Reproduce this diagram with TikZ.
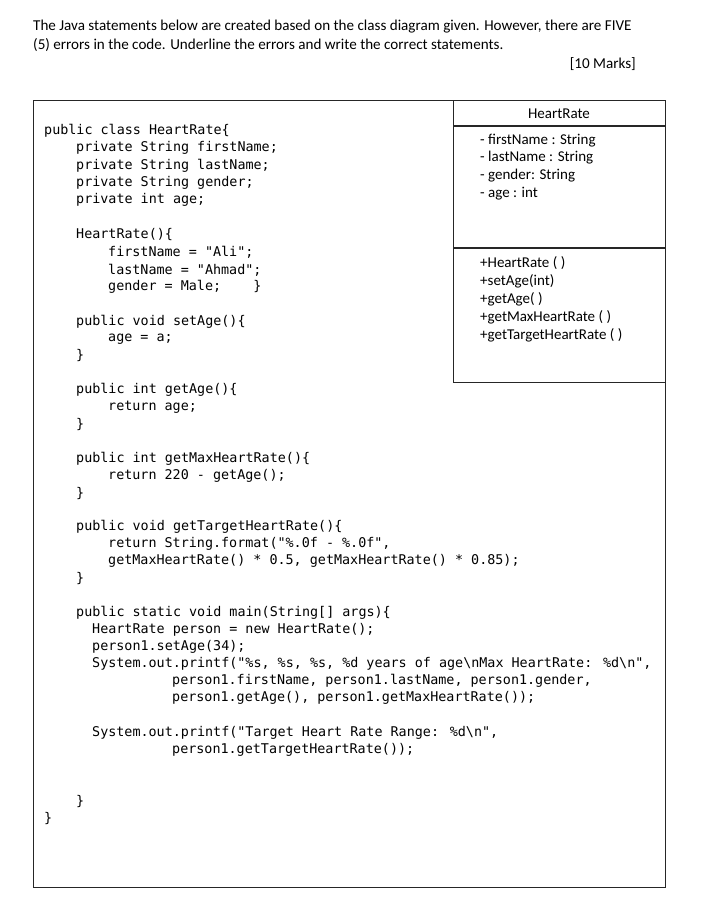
\documentclass[tikz,border=0pt]{standalone}
\usepackage{fontspec}
\setmainfont{Carlito}
\newfontfamily\codefont{DejaVu Sans Mono}
\begin{document}
\begin{tikzpicture}[x=1pt,y=-1pt,
  code/.style={anchor=west,inner sep=0pt,font=\codefont\fontsize{13.4}{14}\selectfont},
  txt/.style={anchor=west,inner sep=0pt,font=\fontsize{15.1}{16}\selectfont},
  uml/.style={anchor=west,inner sep=0pt,font=\fontsize{15}{16}\selectfont},
  frame/.style={draw=black!85,line width=1.1pt}]
\useasboundingbox (0,0) rectangle (711,917);
\node[txt] (h1) at (33,27) {The Java statements below are created based on the class diagram given. However, there are FIVE};
\node[txt] (h2) at (33,45) {(5) errors in the code. Underline the errors and write the correct statements.};
\node[txt,anchor=east] (h3) at (636,64) {[10 Marks]};
\node[frame,minimum width=632,minimum height=787,anchor=north west,inner sep=0pt] (outer) at (33,100) {};
\node[frame,fill=white,minimum width=212,minimum height=282,anchor=north west,inner sep=0pt] (cls) at (453,100) {};
\draw[frame] (453,126) -- (665,126);
\draw[frame] (453,248) -- (665,248);
\node[uml,anchor=center] (cn) at (559,114) {HeartRate};
\node[uml] (a1) at (480,141) {- firstName : String};
\node[uml] (a2) at (480,158) {- lastName : String};
\node[uml] (a3) at (480,176) {- gender: String};
\node[uml] (a4) at (480,194) {- age : int};
\node[uml] (m1) at (480,263) {+HeartRate ( )};
\node[uml] (m2) at (480,281) {+setAge(int)};
\node[uml] (m3) at (480,299) {+getAge( )};
\node[uml] (m4) at (480,317) {+getMaxHeartRate ( )};
\node[uml] (m5) at (480,335) {+getTargetHeartRate ( )};
\node[code] (c1) at (44,131) {public class HeartRate\{};
\node[code] (c2) at (76,148) {private String firstName;};
\node[code] (c3) at (76,166) {private String lastName;};
\node[code] (c4) at (76,183) {private String gender;};
\node[code] (c5) at (76,200) {private int age;};
\node[code] (c6) at (76,235) {HeartRate()\{};
\node[code] (c7) at (108,252) {firstName = "Ali";};
\node[code] (c8) at (108,270) {lastName = "Ahmad";};
\node[code] (c9) at (108,287) {gender = Male;\ \ \ \ \}};
\node[code] (c10) at (76,322) {public void setAge()\{};
\node[code] (c11) at (108,339) {age = a;};
\node[code] (c12) at (76,356) {\}};
\node[code] (c13) at (76,390) {public int getAge()\{};
\node[code] (c14) at (108,407) {return age;};
\node[code] (c15) at (76,424) {\}};
\node[code] (c16) at (76,459) {public int getMaxHeartRate()\{};
\node[code] (c17) at (108,476) {return 220 - getAge();};
\node[code] (c18) at (76,493) {\}};
\node[code] (c19) at (76,527) {public void getTargetHeartRate()\{};
\node[code] (c20) at (108,544) {return String.format("\%.0f - \%.0f",};
\node[code] (c21) at (108,561) {getMaxHeartRate() * 0.5, getMaxHeartRate() * 0.85);};
\node[code] (c22) at (76,578) {\}};
\node[code] (c23) at (76,613) {public static void main(String[] args)\{};
\node[code] (c24) at (92,630) {HeartRate person = new HeartRate();};
\node[code] (c25) at (92,647) {person1.setAge(34);};
\node[code] (c26) at (92,664) {System.out.printf("\%s, \%s, \%s, \%d years of age\textbackslash nMax HeartRate: \%d\textbackslash n",};
\node[code] (c27) at (172,681) {person1.firstName, person1.lastName, person1.gender,};
\node[code] (c28) at (172,698) {person1.getAge(), person1.getMaxHeartRate());};
\node[code] (c29) at (92,733) {System.out.printf("Target Heart Rate Range: \%d\textbackslash n",};
\node[code] (c30) at (172,750) {person1.getTargetHeartRate());};
\node[code] (c31) at (76,801) {\}};
\node[code] (c32) at (44,818) {\}};
\end{tikzpicture}
\end{document}
